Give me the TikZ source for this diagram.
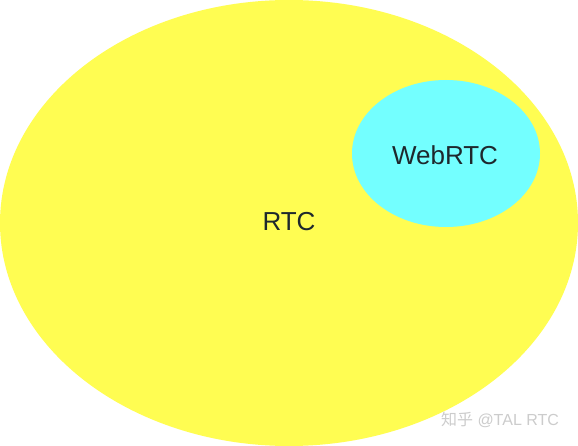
\documentclass[tikz,border=0pt]{standalone}
\usepackage{fontspec}
\setmainfont{Liberation Sans}
\newfontfamily\cjk{Noto Sans CJK SC}
\usepackage{xcolor}
\usetikzlibrary{shapes.geometric, positioning}

\definecolor{rtcyellow}{RGB}{255,253,82}
\definecolor{webcyan}{RGB}{115,255,255}
\definecolor{labeltext}{RGB}{30,40,45}

\begin{document}
\begin{tikzpicture}[
x=1pt, y=-1pt,
outer/.style={ellipse, fill=rtcyellow, minimum width=578pt, minimum height=446pt, inner sep=0pt},
inner/.style={ellipse, fill=webcyan, minimum width=188pt, minimum height=147pt, inner sep=0pt},
lbl/.style={text=labeltext, font=\fontsize{26}{30}\selectfont}
]

% Bounding box
\useasboundingbox (0,0) rectangle (578,446);
\fill[white] (0,0) rectangle (578,446);

% RTC
\node[outer] (rtc) at (289,223) {};
\node[lbl] (rtclabel) at (289,222) {RTC};

% WebRTC
\node[inner] (webrtc) at (446,153.5) {};
\node[lbl] (weblabel) at (445,155) {WebRTC};

% Watermark
\node[text=gray!40, font=\fontsize{16}{19}\selectfont] (mark) at (500,420) {{\cjk 知乎} @TAL RTC};

\end{tikzpicture}
\end{document}
